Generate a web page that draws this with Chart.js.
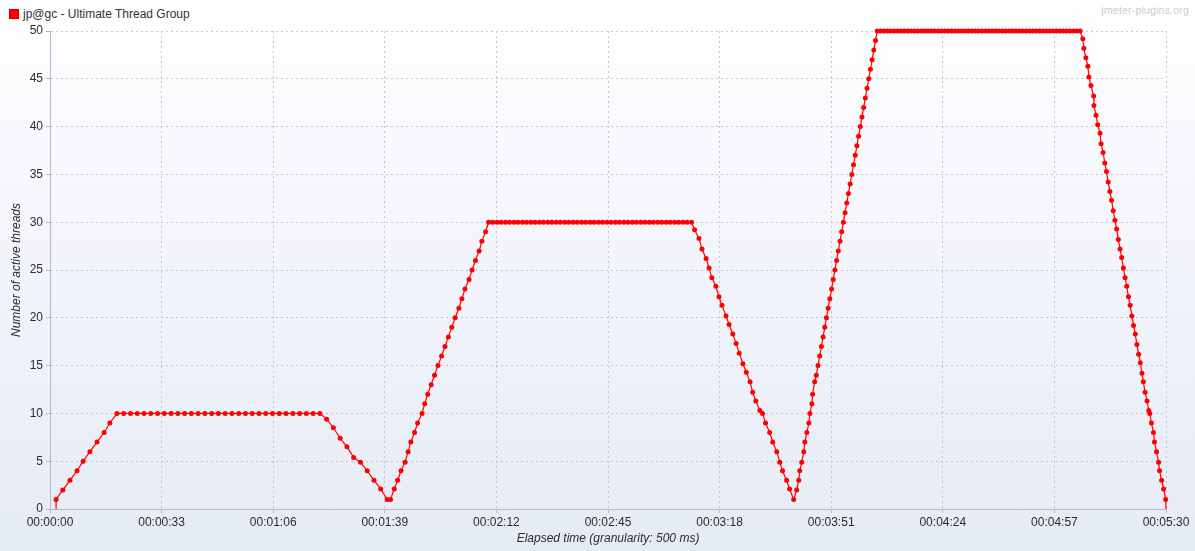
<!DOCTYPE html>
<html>
<head>
<meta charset="utf-8">
<title>Active Threads Over Time</title>
<script src="https://cdn.jsdelivr.net/npm/chart.js@4.4.1/dist/chart.umd.min.js"></script>
<style>
  html, body { margin: 0; padding: 0; }
  body {
    width: 1195px; height: 551px; overflow: hidden; position: relative;
    background: linear-gradient(to bottom, #ffffff 0%, #f3f5fb 45%, #e5ebf5 100%);
    font-family: "Liberation Sans", Arial, sans-serif;
  }
  #legend {
    position: absolute; left: 9px; top: 7px; font-size: 12px; color: #333;
    display: flex; align-items: center; white-space: nowrap;
  }
  #legend span.box {
    display: inline-block; width: 10px; height: 10px; background: #ff0000;
    border: 1px solid #c00000; box-sizing: border-box; margin-right: 4px;
  }
  #watermark {
    position: absolute; right: 6px; top: 4px; font-size: 10.5px; color: #c9cdd6;
    letter-spacing: 0.2px;
  }
  canvas { position: absolute; left: 0; top: 0; }
</style>
</head>
<body>
<div id="legend"><span class="box"></span>jp@gc - Ultimate Thread Group</div>
<div id="watermark">jmeter-plugins.org</div>
<canvas id="threadsChart" width="1195" height="551"></canvas>
<script>
// Elapsed time of each sample, seconds
const elapsedSec = [
  // ramp to 10
  1.8, 1.8, 3.8, 5.9, 8.0, 9.8, 11.8, 13.9, 16.0, 17.7, 19.8,
  // hold 10
  21.8, 23.8, 25.8, 27.8, 29.8, 31.8, 33.8, 35.8, 37.8, 39.8,
  41.8, 43.8, 45.8, 47.8, 49.8, 51.8, 53.8, 55.8, 57.8, 59.8,
  61.8, 63.8, 65.8, 67.8, 69.8, 71.8, 73.8, 75.8, 77.8, 79.8,
  // down to 1
  81.8, 83.8, 85.8, 87.8, 89.8, 91.8, 93.8, 95.8, 97.8, 99.7, 100.7,
  // ramp to 30
  101.8, 102.8, 103.8, 105.0, 105.9, 106.7, 107.8, 108.7, 110.0, 110.8,
  111.7, 112.7, 113.7, 114.7, 115.8, 116.8, 117.8, 118.8, 119.8, 120.9,
  121.8, 122.7, 123.9, 124.8, 125.8, 126.9, 127.7, 128.8, 129.7,
  // hold 30
  130.9, 132.2, 133.4, 134.7, 135.9, 137.2, 138.4, 139.7, 140.9, 142.2,
  143.4, 144.7, 145.9, 147.2, 148.4, 149.7, 150.9, 152.2, 153.4, 154.7,
  155.9, 157.2, 158.4, 159.7, 160.9, 162.2, 163.4, 164.7, 165.9, 167.2,
  168.4, 169.7, 170.9, 172.2, 173.4, 174.7, 175.9, 177.2, 178.4, 179.7,
  180.9, 182.2, 183.4, 184.7, 185.9, 187.2, 188.4, 189.7,
  // down to 1
  190.6, 191.9, 192.8, 194.0, 194.9, 195.7, 196.9, 197.8, 198.7, 199.9,
  200.8, 201.9, 202.9, 203.8, 204.9, 205.9, 207.0, 207.8, 208.7, 209.9,
  210.7, 211.6, 212.8, 213.7, 214.9, 215.8, 216.6, 217.8, 218.7, 219.9,
  // ramp to 50
  220.8, 221.4, 221.7, 222.3, 222.9, 223.2, 223.8, 224.4, 224.7, 225.3,
  225.5, 226.1, 226.6, 227.1, 227.6, 228.1, 228.6, 229.1, 229.6, 230.1,
  230.6, 231.1, 231.6, 232.1, 232.6, 233.1, 233.6, 234.1, 234.6, 235.1,
  235.6, 236.1, 236.6, 237.1, 237.6, 238.1, 238.6, 239.1, 239.6, 240.1,
  240.6, 241.1, 241.6, 242.1, 242.6, 243.1, 243.6, 244.1, 244.6,
  // hold 50
  245.6, 246.6, 247.6, 248.6, 249.6, 250.6, 251.6, 252.6, 253.6, 254.6,
  255.6, 256.6, 257.6, 258.6, 259.6, 260.6, 261.6, 262.6, 263.6, 264.6,
  265.6, 266.6, 267.6, 268.6, 269.6, 270.6, 271.6, 272.6, 273.6, 274.6,
  275.6, 276.6, 277.6, 278.6, 279.6, 280.6, 281.6, 282.6, 283.6, 284.6,
  285.6, 286.6, 287.6, 288.6, 289.6, 290.6, 291.6, 292.6, 293.6, 294.6,
  295.6, 296.6, 297.6, 298.6, 299.6, 300.6, 301.6, 302.6, 303.6, 304.6,
  // down to 0
  305.4, 305.7, 306.3, 306.9, 307.2, 307.8, 308.6, 308.7, 309.3, 309.8,
  310.5, 310.8, 311.4, 311.9, 312.4, 312.9, 313.4, 313.9, 314.4, 314.9,
  315.4, 315.9, 316.4, 316.9, 317.4, 317.9, 318.4, 318.9, 319.4, 319.9,
  320.4, 320.9, 321.4, 321.9, 322.4, 322.9, 323.3, 323.8, 324.4, 324.9,
  325.2, 325.7, 326.3, 326.6, 327.2, 327.8, 328.1, 328.7, 329.3, 329.9,
  330.0
];

// Number of active threads at each sample
const activeThreads = [
  0, 1, 2, 3, 4, 5, 6, 7, 8, 9, 10,
  10, 10, 10, 10, 10, 10, 10, 10, 10, 10,
  10, 10, 10, 10, 10, 10, 10, 10, 10, 10,
  10, 10, 10, 10, 10, 10, 10, 10, 10, 10,
  9.4, 8.5, 7.4, 6.5, 5.4, 4.9, 4.0, 3.0, 2.1, 1.0, 1.0,
  2.1, 3, 4, 4.9, 6, 7, 8, 9, 10, 11,
  12, 13, 14, 15, 16, 17, 18, 19, 20, 21,
  22, 23, 24, 25, 26, 27, 28, 29, 30,
  30, 30, 30, 30, 30, 30, 30, 30, 30, 30,
  30, 30, 30, 30, 30, 30, 30, 30, 30, 30,
  30, 30, 30, 30, 30, 30, 30, 30, 30, 30,
  30, 30, 30, 30, 30, 30, 30, 30, 30, 30,
  30, 30, 30, 30, 30, 30, 30, 30,
  29.2, 28.3, 27.2, 26.2, 25.2, 24.2, 23.3, 22.2, 21.3, 20.2,
  19.3, 18.3, 17.3, 16.3, 15.2, 14.3, 13.3, 12.2, 11.3, 10.3,
  10.0, 9.0, 8.0, 7.0, 6.0, 4.9, 4.0, 3.0, 2.1, 1.0,
  2.0, 3.0, 4.0, 4.9, 6.0, 7.0, 8.0, 9.0, 10.0, 11,
  12, 13.3, 14, 15, 16, 17, 18, 19, 20, 21,
  22, 23, 24, 25, 26, 27, 28, 29, 30, 31,
  32, 33, 34, 35, 36, 37, 38, 39, 40, 41,
  42, 43, 44, 45, 46, 47, 48, 49, 50,
  50, 50, 50, 50, 50, 50, 50, 50, 50, 50,
  50, 50, 50, 50, 50, 50, 50, 50, 50, 50,
  50, 50, 50, 50, 50, 50, 50, 50, 50, 50,
  50, 50, 50, 50, 50, 50, 50, 50, 50, 50,
  50, 50, 50, 50, 50, 50, 50, 50, 50, 50,
  50, 50, 50, 50, 50, 50, 50, 50, 50, 50,
  49.2, 48.2, 47.2, 46.3, 45.2, 44.3, 43.2, 42.2, 41.2, 40.2,
  39.3, 38.2, 37.3, 36.2, 35.3, 34.2, 33.2, 32.3, 31.2, 30.2,
  29.3, 28.2, 27.2, 26.3, 25.2, 24.2, 23.3, 22.2, 21.3, 20.2,
  19.2, 18.3, 17.2, 16.2, 15.3, 14.2, 13.3, 12.2, 11.3, 10.3,
  10.0, 9.0, 8.0, 7.0, 6.0, 4.9, 4.0, 3.0, 2.1, 1.0,
  0
];

// Axis settings
const xMaxSec = 330;
const xStepSec = 33;
const yMax = 50;
const yStep = 5;

const seriesLabel = 'jp@gc - Ultimate Thread Group';
const lineColor = '#ff0000';
const axisColor = '#b3b9c6';
const gridColor = '#c3c6cc';
const textColor = '#2b2b2b';
const fontFamily = '"Liberation Sans", Arial, sans-serif';

function formatElapsed(sec) {
  const s = Math.round(sec);
  const hh = String(Math.floor(s / 3600)).padStart(2, '0');
  const mm = String(Math.floor((s % 3600) / 60)).padStart(2, '0');
  const ss = String(s % 60).padStart(2, '0');
  return hh + ':' + mm + ':' + ss;
}

const points = elapsedSec.map((t, i) => ({ x: t, y: activeThreads[i] }));

const ctx = document.getElementById('threadsChart');

new Chart(ctx, {
  type: 'line',
  data: {
    datasets: [{
      label: seriesLabel,
      data: points,
      borderColor: lineColor,
      backgroundColor: lineColor,
      borderWidth: 1.2,
      tension: 0,
      pointStyle: 'circle',
      pointRadius: (c) => (c.raw && c.raw.y === 0 ? 0 : 2.5),
      pointBorderWidth: 0,
      pointBackgroundColor: lineColor,
      clip: false
    }]
  },
  options: {
    responsive: false,
    animation: false,
    layout: {
      padding: { top: 31, left: 0, right: 29, bottom: 0 }
    },
    plugins: {
      legend: { display: false },
      tooltip: { enabled: false }
    },
    scales: {
      x: {
        type: 'linear',
        min: 0,
        max: xMaxSec,
        afterFit: (scale) => { scale.height = 42; },
        ticks: {
          stepSize: xStepSec,
          autoSkip: false,
          maxRotation: 0,
          padding: 2,
          color: textColor,
          font: { family: fontFamily, size: 12 },
          callback: (v) => formatElapsed(v)
        },
        grid: {
          color: gridColor,
          lineWidth: 1,
          tickLength: 4,
          tickColor: axisColor
        },
        border: { color: axisColor, width: 1, dash: [2, 3] },
        title: {
          display: true,
          text: 'Elapsed time (granularity: 500 ms)',
          color: textColor,
          font: { family: fontFamily, size: 12, style: 'italic' },
          padding: { top: 0, bottom: 5 }
        }
      },
      y: {
        min: 0,
        max: yMax,
        afterFit: (scale) => { scale.width = 50; },
        ticks: {
          stepSize: yStep,
          padding: 3,
          color: textColor,
          font: { family: fontFamily, size: 12 }
        },
        grid: {
          color: gridColor,
          lineWidth: 1,
          tickLength: 4,
          tickColor: axisColor
        },
        border: { color: axisColor, width: 1, dash: [2, 3] },
        title: {
          display: true,
          text: 'Number of active threads',
          color: textColor,
          font: { family: fontFamily, size: 12, style: 'italic' },
          padding: { top: 9, bottom: 0 }
        }
      }
    }
  }
});
</script>
</body>
</html>
